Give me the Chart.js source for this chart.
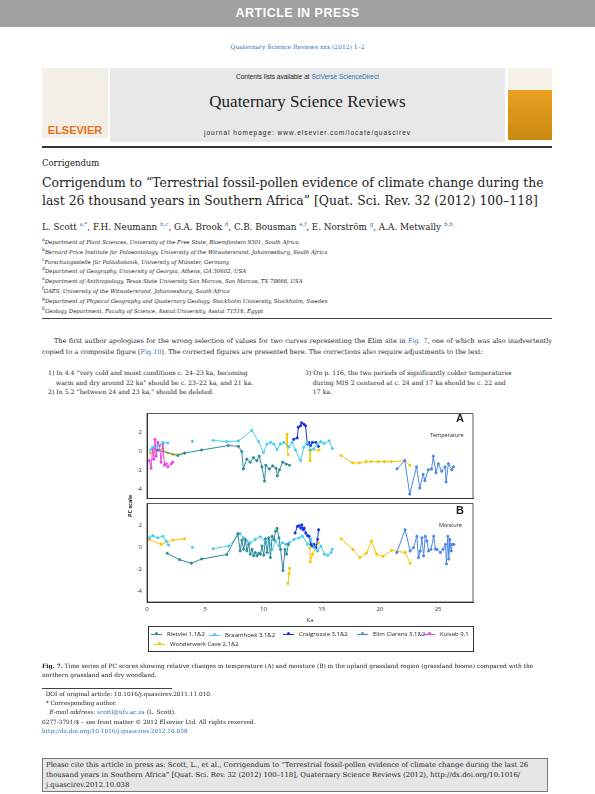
<!DOCTYPE html>
<html>
<head>
<meta charset="utf-8">
<script src="https://cdn.jsdelivr.net/npm/chart.js@4"></script>
<style>
  body { margin:0; width:595px; height:794px; position:relative; background:#fff; font-family:"DejaVu Serif", serif; color:#222; overflow:hidden; }
  .abs { position:absolute; }
  .blue { color:#2a6fb5; }
  .aff { font-size:5.4px; font-style:italic; line-height:8px; left:42px; white-space:nowrap; }
  .aff sup { font-style:normal; }
  .leg { font-family:"Open Sans", sans-serif; font-size:6px; color:#222; display:flex; align-items:center; white-space:nowrap; }
  .leg i { display:inline-block; width:11px; height:1px; margin-right:5px; position:relative; }
  .leg i b { position:absolute; left:4px; top:-1.5px; width:3px; height:3px; border-radius:2px; background:inherit; }
</style>
</head>
<body>
<div class="abs" style="left:0;top:0;width:595px;height:27px;background:#a0a0a0;color:#fff;font:bold 12.5px 'Liberation Sans',sans-serif;text-align:center;line-height:27px;letter-spacing:0.5px">ARTICLE IN PRESS</div>
<div class="abs blue" style="left:0;top:43px;width:595px;text-align:center;font-size:6px">Quaternary Science Reviews xxx (2012) 1–2</div>

<div class="abs" style="left:42px;top:68px;width:66px;height:70px;background:#f3efe6"></div>
<div class="abs" style="left:42px;top:124px;width:66px;text-align:center;color:#e4711a;font:bold 11px 'Liberation Sans',sans-serif">ELSEVIER</div>
<div class="abs" style="left:110px;top:68px;width:395px;height:74px;background:#e8e8e8"></div>
<div class="abs" style="left:110px;top:73px;width:395px;text-align:center;font:6.5px 'Liberation Sans',sans-serif">Contents lists available at <span class="blue">SciVerse ScienceDirect</span></div>
<div class="abs" style="left:110px;top:92px;width:395px;text-align:center;font:17px 'Liberation Serif',serif">Quaternary Science Reviews</div>
<div class="abs" style="left:110px;top:129px;width:395px;text-align:center;font:6.5px 'Liberation Sans',sans-serif;letter-spacing:1px">journal homepage: www.elsevier.com/locate/quascirev</div>
<div class="abs" style="left:508px;top:68px;width:44px;height:72px;background:linear-gradient(#f6f2e8 0,#f6f2e8 22px,#e8a020 22px,#c98a10 100%)"></div>
<div class="abs" style="left:42px;top:146px;width:510px;height:2px;background:#333"></div>

<div class="abs" style="left:42px;top:158px;font-size:8.5px">Corrigendum</div>
<div class="abs" style="left:42px;top:174px;width:515px;font-size:12.4px;line-height:18px">Corrigendum to “Terrestrial fossil-pollen evidence of climate change during the last 26 thousand years in Southern Africa” [Quat. Sci. Rev. 32 (2012) 100–118]</div>
<div class="abs" style="left:42px;top:221px;font-size:8.8px;white-space:nowrap">L. Scott <sup class="blue" style="font-size:5.5px">a,*</sup>, F.H. Neumann <sup class="blue" style="font-size:5.5px">b,c</sup>, G.A. Brook <sup class="blue" style="font-size:5.5px">d</sup>, C.B. Bousman <sup class="blue" style="font-size:5.5px">e,f</sup>, E. Norström <sup class="blue" style="font-size:5.5px">g</sup>, A.A. Metwally <sup class="blue" style="font-size:5.5px">b,h</sup></div>
<div class="abs aff" style="top:236px">
<sup>a</sup>Department of Plant Sciences, University of the Free State, Bloemfontein 9301, South Africa<br>
<sup>b</sup>Bernard Price Institute for Palaeontology, University of the Witwatersrand, Johannesburg, South Africa<br>
<sup>c</sup>Forschungsstelle für Paläobotanik, University of Münster, Germany<br>
<sup>d</sup>Department of Geography, University of Georgia, Athens, GA 30602, USA<br>
<sup>e</sup>Department of Anthropology, Texas State University San Marcos, San Marcos, TX 78666, USA<br>
<sup>f</sup>GAES, University of the Witwatersrand, Johannesburg, South Africa<br>
<sup>g</sup>Department of Physical Geography and Quaternary Geology, Stockholm University, Stockholm, Sweden<br>
<sup>h</sup>Geology Department, Faculty of Science, Assiut University, Assiut 71516, Egypt</div>
<div class="abs" style="left:42px;top:318px;width:510px;height:1px;background:#444"></div>

<div class="abs" style="left:42px;top:336px;width:510px;font-size:6.5px;line-height:11px;text-align:justify;text-indent:12px">The first author apologizes for the wrong selection of values for two curves representing the Elim site in <span class="blue">Fig. 7</span>, one of which was also inadvertently copied to a composite figure (<span class="blue">Fig.10</span>). The corrected figures are presented here. The corrections also require adjustments to the text:</div>
<div class="abs" style="left:48px;top:368px;width:252px;font-size:6.2px;line-height:9.5px;white-space:nowrap">1) In 4.4 “very cold and moist conditions c. 24–23 ka, becoming<br>&nbsp;&nbsp;&nbsp;&nbsp;warm and dry around 22 ka” should be c. 23–22 ka, and 21 ka.<br>2) In 5.2 “between 24 and 23 ka,” should be deleted.</div>
<div class="abs" style="left:305px;top:368px;width:252px;font-size:6.2px;line-height:9.5px;white-space:nowrap">3) On p. 116, the two periods of significantly colder temperatures<br>&nbsp;&nbsp;&nbsp;&nbsp;during MIS 2 centered at c. 24 and 17 ka should be c. 22 and<br>&nbsp;&nbsp;&nbsp;&nbsp;17 ka.</div>

<div class="abs" style="left:120px;top:408px;width:356px;height:96px"><canvas id="chartA"></canvas></div>
<div class="abs" style="left:120px;top:498px;width:356px;height:126px"><canvas id="chartB"></canvas></div>
<div class="abs" style="left:456px;top:412px;font:bold 11px 'Liberation Sans',sans-serif">A</div>
<div class="abs" style="left:430px;top:431px;font:5.5px 'Open Sans',sans-serif">Temperature</div>
<div class="abs" style="left:456px;top:504px;font:bold 11px 'Liberation Sans',sans-serif">B</div>
<div class="abs" style="left:439px;top:521px;font:5.5px 'Open Sans',sans-serif">Moisture</div>
<div class="abs" style="left:126px;top:517px;font:bold 5.5px 'Open Sans',sans-serif;transform:rotate(-90deg);transform-origin:left top;white-space:nowrap">PC scale</div>

<div class="abs" style="left:148px;top:626px;width:324px;height:24px;border:1px solid #333">
  <div class="abs leg" style="left:2px;top:3px"><i style="background:#2e8b9a"><b></b></i>Rietvlei 1,1&amp;2</div>
  <div class="abs leg" style="left:60px;top:4px"><i style="background:#45cdf0"><b></b></i>Braamhoek 3,1&amp;2</div>
  <div class="abs leg" style="left:134px;top:3px"><i style="background:#1433e0"><b></b></i>Craigrossie 3,1&amp;2</div>
  <div class="abs leg" style="left:208px;top:3px"><i style="background:#4a86e8"><b></b></i>Elim Clarens 3,1&amp;2</div>
  <div class="abs leg" style="left:275px;top:3px"><i style="background:#ee44dd"><b></b></i>Kuiseb 9,1</div>
  <div class="abs leg" style="left:5px;top:13px"><i style="background:#f5c400"><b></b></i>Wonderwerk Cave 2,1&amp;2</div>
</div>

<div class="abs" style="left:42px;top:661px;width:510px;font-size:5.9px;line-height:9px"><b>Fig. 7.</b> Time series of PC scores showing relative changes in temperature (A) and moisture (B) in the upland grassland region (grassland biome) compared with the northern grassland and dry woodland.</div>
<div class="abs" style="left:42px;top:688px;width:130px;height:1px;background:#444"></div>
<div class="abs" style="left:42px;top:690px;font-size:5.8px;line-height:9px">&nbsp;&nbsp;DOI of original article: 10.1016/j.quascirev.2011.11.010.<br>&nbsp;&nbsp;* Corresponding author.<br>&nbsp;&nbsp;&nbsp;&nbsp;<i>E-mail address:</i> <span class="blue">scottl@ufs.ac.za</span> (L. Scott).</div>
<div class="abs" style="left:42px;top:718px;font-size:5.8px;line-height:9px">0277-3791/$ – see front matter © 2012 Elsevier Ltd. All rights reserved.<br><span class="blue">http://dx.doi.org/10.1016/j.quascirev.2012.10.038</span></div>
<div class="abs" style="left:42px;top:758px;width:506px;height:34px;background:#e6e6e6;border:1px solid #777;font-size:6.9px;line-height:10px;padding:1px 3px;box-sizing:border-box">Please cite this article in press as: Scott, L., et al., Corrigendum to “Terrestrial fossil-pollen evidence of climate change during the last 26 thousand years in Southern Africa” [Quat. Sci. Rev. 32 (2012) 100–118], Quaternary Science Reviews (2012), http://dx.doi.org/10.1016/ j.quascirev.2012.10.038</div>

<script>
// Fig. 7 — PC scores vs age (ka); null breaks a series into separate segments

const xTicks = [0, 5, 10, 15, 20, 25];
const yTicks = [-4, -2, 0, 2];

const seriesNames  = ['Rietvlei 1,1&2', 'Braamhoek 3,1&2', 'Craigrossie 3,1&2', 'Elim Clarens 3,1&2', 'Kuiseb 9,1', 'Wonderwerk Cave 2,1&2'];
const seriesColors = ['#2e8b9a', '#45cdf0', '#1433e0', '#4a86e8', '#ee44dd', '#f5c400'];

// Panel A: temperature
const rietvleiA = [[0.92,0.13],[2.65,-0.45],[3.23,-0.2],[4.68,0.13],[6.98,0.61],[7.85,0.52],[8.14,-0.03],[8.28,-1.87],[8.57,-0.84],[8.86,-1.16],[9.15,-0.68],[9.44,-1.0],[9.64,-0.52],[9.87,-1.65],[10.1,-3.16],[10.2,-1.48],[10.5,-1.87],[10.8,-1.55],[11.08,-1.8],[11.2,-2.6],[11.37,-1.97],[11.66,-1.16],[11.95,-1.35],[12.24,-1.48]];
const braamhoekA = [[0.29,0.13],[0.49,0.45],[0.92,0.61],[1.36,0.94],[1.79,0.87],null,[3.9,1.06],null,[5.69,1.16],[6.84,1.03],[7.85,1.1],[9.0,2.23],[9.58,1.03],[10.0,-0.13],[10.3,0.77],[10.6,0.94],[10.9,0.77],[11.17,0.19],[11.46,0.77],[11.75,0.94],[12.18,0.45],[12.47,0.94],[12.76,0.13],[13.19,-1.0],[13.48,0.45],[13.77,0.94],[14.05,0.13],[14.34,0.29],[14.63,0.77],[14.92,1.03],[15.2,0.84],[15.64,1.1],[15.93,0.29]];
const craigrossieA = [[12.6,1.26],[12.9,1.42],[13.0,2.55],[13.19,2.71],[13.28,3.03],[13.48,2.87],[13.62,2.71],[13.77,0.77],[13.91,0.94],[14.05,0.61],[14.2,0.94],[14.49,0.94],[14.72,0.52]];
const elimA = [[21.47,-1.87],[22.14,-1.0],[22.57,-4.55],[23.15,-1.65],[23.43,-3.9],[23.72,-2.45],[23.87,-3.1],[24.16,-1.97],[24.44,-1.87],[24.59,-0.52],[24.82,-2.29],[25.02,-1.32],[25.31,-2.13],[25.6,-1.65],[25.69,-3.26],[25.89,-1.32],[26.18,-1.97],[26.32,-1.65]];
const kuisebA = [[0.2,-1.0],[0.35,-1.8],[0.49,0.29],[0.58,-0.84],[0.69,1.26],[0.78,-0.52],[0.92,0.94],[1.07,0.61],[1.21,-1.16],[1.36,0.77],[1.5,-1.48],[1.65,-1.32],[1.79,-1.65],[2.08,-1.32],[2.22,-1.16]];
const wonderwerkA = [[0.29,-0.19],[0.92,0.13],[1.36,0.29],[1.79,-0.19],[2.22,-0.35],[3.23,-0.19],null,[12.03,1.8],[12.03,0.61],[12.12,-0.35],null,[13.97,0.13],[14.0,-1.0],[14.05,0.13],[14.78,0.13],null,[16.65,-0.45],[17.66,-1.23],[18.24,-1.23],[18.82,-1.1],[19.25,-1.1],[19.83,-1.1],[20.4,-1.1],[20.98,-1.1],[22.14,-1.0],[22.57,-1.48]];

// Panel B: moisture
const rietvleiB = [[1.73,-0.54],[2.8,-1.13],[3.81,-1.46],[4.68,-1.07],[6.85,-0.66],[7.8,1.25],[8.0,-0.33],[8.15,0.66],[8.3,-0.18],[8.44,0.72],[8.58,-0.33],[8.73,0.27],[8.87,-0.63],[9.02,-0.18],[9.16,-0.78],[9.3,-0.48],[9.45,-0.78],[9.6,-0.54],[9.74,-0.63],[9.88,0.12],[10.03,-0.72],[10.17,0.78],[10.32,-0.48],[10.46,0.87],[10.6,-0.93],[10.75,1.01],[10.9,0.72],[11.04,1.46],[11.18,1.73],[11.33,0.87],[11.47,-0.18],[11.68,-2.12],[11.85,-0.18],[11.99,-0.63],[12.14,0.27]];
const braamhoekB = [[0.2,0.87],[0.49,1.07],[0.92,0.87],[1.36,1.01],[1.65,0.57],[1.85,0.21],null,[3.9,0.0],null,[5.69,-0.12],[7.0,0.12],[8.0,1.25],[8.3,0.87],[8.58,0.57],[8.87,0.42],[9.3,0.72],[9.74,0.96],[10.17,0.42],[10.46,0.72],[10.75,-0.18],[11.04,0.57],[11.33,0.12],[11.62,0.42],[11.9,0.27],[12.2,0.42],[12.63,0.72],[13.06,0.87],[13.35,1.01],[13.79,0.27],[14.08,0.72],[14.36,-0.03],[14.65,-0.33],[14.94,0.12],[15.23,-0.63],[15.52,-0.72],[15.81,-0.48],[15.9,-0.18]];
const craigrossieB = [[12.72,1.31],[12.92,1.91],[13.06,1.97],[13.21,1.76],[13.29,2.06],[13.41,1.61],[13.5,1.76],[13.64,1.31],[13.79,1.07],[13.93,1.01],[14.08,0.27],[14.22,0.12],[14.36,0.27],[14.51,-0.03],[14.65,0.72],[14.74,1.61]];
const elimB = [[21.45,-0.48],[22.17,1.61],[22.6,-0.33],[22.89,-0.03],[23.18,1.01],[23.32,-0.93],[23.47,-0.33],[23.61,0.87],[23.76,-0.78],[23.9,1.01],[24.05,0.57],[24.19,-0.33],[24.39,-0.18],[24.62,1.01],[24.77,-0.18],[24.91,-0.18],[25.2,-0.48],[25.43,-0.18],[25.64,0.27],[25.72,-1.52],[25.84,1.01],[25.92,-1.07],[26.01,0.72],[26.13,-0.33],[26.21,0.27],[26.36,0.27]];
const kuisebB = [];
const wonderwerkB = [[0.2,0.72],[1.21,0.27],[2.22,0.66],[3.23,0.78],null,[12.11,-3.31],[12.2,-2.42],[12.25,-1.91],null,[13.99,-0.03],[14.02,-1.31],[14.22,-0.63],[14.74,0.42],null,[16.68,0.78],[17.69,-0.18],[18.27,-0.93],[18.84,-0.54],[19.28,0.57],[19.71,-0.63],[20.29,-0.84],[21.01,-0.27],[22.17,-0.48],[22.6,-1.46]];

const panelA = [rietvleiA, braamhoekA, craigrossieA, elimA, kuisebA, wonderwerkA];
const panelB = [rietvleiB, braamhoekB, craigrossieB, elimB, kuisebB, wonderwerkB];

const toPoints = arr => arr.map(p => p ? { x: p[0], y: p[1] } : { x: null, y: null });

// frame around the plot area, like the original
const frame = {
  id: 'frame',
  afterDraw(chart) {
    const { ctx, chartArea: a } = chart;
    ctx.save();
    ctx.strokeStyle = '#333';
    ctx.lineWidth = 0.8;
    ctx.strokeRect(a.left, a.top, a.right - a.left, a.bottom - a.top);
    ctx.restore();
  },
};

function makePanel(id, data, showX) {
  const tickFont = { family: 'Open Sans', size: 6 };
  new Chart(document.getElementById(id), {
    type: 'line',
    data: {
      datasets: data.map((arr, i) => ({
        label: seriesNames[i],
        data: toPoints(arr),
        borderColor: seriesColors[i],
        backgroundColor: seriesColors[i],
        borderWidth: 1,
        pointRadius: 1.1,
        pointHoverRadius: 1.1,
        spanGaps: false,
      })),
    },
    options: {
      responsive: true,
      maintainAspectRatio: false,
      animation: false,
      layout: { padding: { top: 4, right: 3, bottom: 0, left: 0 } },
      plugins: { legend: { display: false }, tooltip: { enabled: false } },
      scales: {
        x: {
          type: 'linear', min: 0, max: 28,
          grid: { display: false, drawTicks: true, tickLength: 3, tickColor: '#333' },
          border: { color: '#333' },
          afterBuildTicks: s => { s.ticks = xTicks.map(v => ({ value: v })); },
          ticks: { display: showX, font: tickFont, color: '#333', padding: 1, maxRotation: 0 },
          title: { display: showX, text: 'Ka', font: tickFont, color: '#333', padding: 0 },
          afterFit: s => { s.height = showX ? 22 : 0; },
        },
        y: {
          min: -5, max: 4,
          grid: { display: false, tickLength: 3, tickColor: '#333' },
          border: { color: '#333' },
          afterBuildTicks: s => { s.ticks = yTicks.map(v => ({ value: v })); },
          ticks: { font: tickFont, color: '#333', padding: 2 },
          afterFit: s => { s.width = 27; },
        },
      },
    },
    plugins: [frame],
  });
}

makePanel('chartA', panelA, false);
makePanel('chartB', panelB, true);
</script>
</body>
</html>
